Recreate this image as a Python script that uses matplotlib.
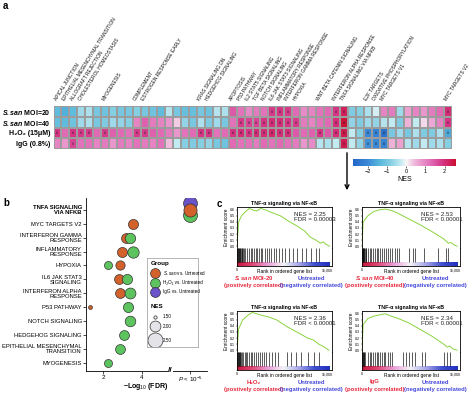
import matplotlib
matplotlib.use('Agg')
import matplotlib.pyplot as plt
import numpy as np
from matplotlib.colors import LinearSegmentedColormap, Normalize
from matplotlib import transforms
import matplotlib.cm as cm

plt.rcParams['font.family'] = ['Liberation Sans', 'DejaVu Sans']
plt.rcParams['mathtext.fontset'] = 'custom'
plt.rcParams['mathtext.rm'] = 'Liberation Sans'
plt.rcParams['mathtext.it'] = 'Liberation Sans:italic'
plt.rcParams['mathtext.bf'] = 'Liberation Sans:bold'
plt.rcParams['mathtext.bfit'] = 'Liberation Sans:bold:italic'

W, H = 474, 394

# ---------------- panel a: heatmap data ----------------
hm_rows = [r'$\mathbfit{S.san}$ MOI=20', r'$\mathbfit{S.san}$ MOI=40', 'H₂O₂ (15μM)', 'IgG (0.8%)']
hm_labels = ['APICAL JUNCTION', 'EPITHELIAL MESENCHYMAL TRANSITION', 'ALLOGRAFT REJECTION',
             'CHOLESTEROL HOMEOSTASIS', '', '', 'MYOGENESIS', '', '', '',
             'COMPLEMENT', 'ESTROGEN RESPONSE EARLY', '', '', '', '', '', '',
             'KRAS SIGNALING DN', 'HEDGEHOG SIGNALING', '', '',
             'APOPTOSIS', 'P53 PATHWAY', 'IL2 STAT5 SIGNALING', 'TGF BETA SIGNALING',
             'NOTCH SIGNALING', 'IL6 JAK STAT3 SIGNALING', 'INFLAMMATORY RESPONSE',
             'INTERFERON GAMMA RESPONSE', 'HYPOXIA', '', '', 'WNT BETA CATENIN SIGNALING', '',
             'INTERFERON ALPHA RESPONSE', 'TNFA SIGNALING VIA NFKB', '', '',
             'E2F TARGETS', 'OXIDATIVE PHOSPHORYLATION', 'MYC TARGETS V1',
             '', '', '', '', '', '', '', 'MYC TARGETS V2']
nes_moi20 = [-1.3, -1.5, -1.3, -0.6, -0.5, -1.0, -1.1, -0.8, -1.0, -1.0,
             -0.8, -1.0, -1.1, -1.3, -0.4, -1.0, -1.2, -1.2, -1.0, -1.1,
             -0.4, -0.5, 1.5, 1.2, 0.9, 1.1, 1.2, 1.8, 1.9, 1.8,
             1.3, 0.9, 1.0, 1.2, 1.3, 1.9, 2.25, -0.9, -0.8, -0.5,
             -0.2, 1.0, 1.1, -0.6, 0.7, 1.0, 0.8, 1.1, 1.3, 2.0]
nes_moi40 = [-1.2, -1.3, -1.1, -0.6, -0.5, -1.0, -0.9, -0.6, -0.7, -0.8,
             1.0, 1.4, 1.1, 1.0, 0.8, 0.3, -0.7, -1.0, -0.5, -0.9,
             -0.6, -1.0, 1.2, 1.8, 1.7, 1.7, 1.9, 2.0, 2.0, 1.9,
             1.8, 1.1, 1.0, 1.2, 1.3, 2.0, 2.53, -0.7, -0.9, -0.6,
             -0.7, -0.4, -0.3, -0.9, 0.5, -0.3, 0.2, 0.6, 1.0, 1.9]
nes_h2o2 = [1.9, 1.3, 1.9, 1.8, 1.8, 1.3, 1.8, 1.4, 1.3, 1.2,
            1.8, 1.8, 1.4, 1.3, 1.1, 0.8, 1.2, 1.3, 1.9, 1.9,
            1.2, 1.3, 1.9, 2.0, 1.9, 2.0, 2.0, 2.1, 2.0, 2.0,
            1.5, 1.3, 1.4, 1.9, 1.5, 2.0, 2.36, -0.3, -0.8, -2.0,
            -2.1, -2.5, -1.0, -0.6, -1.0, -0.5, -0.9, -0.9, -0.5, -1.6]
nes_igg = [1.0, 0.8, 1.7, 1.2, 1.2, 1.0, 1.1, 0.8, 1.1, 1.0,
           1.2, 1.1, 1.0, 1.2, 0.4, -0.3, -0.8, -0.9, -0.8, -0.7,
           -1.0, -1.1, 1.3, 1.2, 1.2, 1.1, 1.3, 1.2, 1.3, 1.2,
           1.1, 0.8, 0.9, -0.4, -0.5, -0.3, 2.34, -0.3, -0.7, -1.9,
           -2.0, -2.1, 0.5, 0.7, -0.4, -0.6, -0.3, -0.6, -0.5, -0.8]
sig_moi20 = [27, 28, 29, 35, 36, 49]
sig_moi40 = [23, 24, 25, 26, 27, 28, 29, 30, 35, 36, 49]
sig_h2o2 = [0, 2, 3, 4, 6, 10, 11, 18, 19, 22, 23, 24, 25, 26, 27, 28, 29, 33, 35, 36, 39, 40, 41, 49]
sig_igg = [2, 36, 39, 40, 41]

# ---------------- panel b data ----------------
b_terms = ['TNFA SIGNALING\nVIA NFKB', 'MYC TARGETS V2', 'INTERFERON GAMMA\nRESPONSE',
           'INFLAMMATORY\nRESPONSE', 'HYPOXIA', 'IL6 JAK STAT3\nSIGNALING',
           'INTERFERON ALPHA\nRESPONSE', 'P53 PATHWAY', 'NOTCH SIGNALING',
           'HEDGEHOG SIGNALING', 'EPITHELIAL MESENCHYMAL\nTRANSITION', 'MYOGENESIS']
san_term = [0, 1, 2, 3, 4, 5, 6, 7]
san_logfdr = [np.inf, 3.52, 3.20, 2.97, 2.89, 2.84, 2.85, 1.35]
san_nes = [2.25, 1.92, 1.90, 1.92, 1.85, 1.90, 1.90, 1.52]
h2o2_term = [0, 2, 3, 4, 5, 6, 7, 8, 9, 10, 11]
h2o2_logfdr = [np.inf, 3.40, 3.52, 2.26, 3.23, 3.40, 3.26, 3.40, 3.06, 2.89, 2.26]
h2o2_nes = [2.36, 1.95, 2.05, 1.75, 1.93, 2.00, 1.93, 1.97, 1.90, 1.90, 1.75]
igg_term = [0]
igg_logfdr = [np.inf]
igg_nes = [2.34]

# ---------------- panel c data (ranks in thousands) ----------------
es_moi20_x = [0, 0.3, 0.8, 1.5, 2.2, 3.0, 3.5, 4.2, 5.0, 6.0, 7.7, 9.0, 10.7, 12.0, 13.0, 14.0, 14.8, 15.3, 15.8, 16.4]
es_moi20_y = [0.0, 0.40, 0.50, 0.57, 0.62, 0.59, 0.58, 0.62, 0.60, 0.56, 0.50, 0.42, 0.33, 0.25, 0.15, 0.10, 0.05, 0.07, 0.03, 0.0]
es_moi40_x = [0, 0.2, 1.0, 2.0, 3.0, 4.0, 5.0, 6.0, 8.0, 10.0, 12.0, 14.0, 14.8, 15.3, 15.8, 16.3]
es_moi40_y = [0.0, 0.40, 0.50, 0.57, 0.60, 0.61, 0.59, 0.55, 0.45, 0.35, 0.24, 0.12, 0.05, 0.06, 0.02, 0.0]
es_h2o2_x = [0, 0.3, 1.0, 2.0, 2.7, 3.5, 4.5, 5.5, 7.0, 9.0, 11.0, 12.5, 13.5, 14.5, 15.5, 16.3]
es_h2o2_y = [0.0, 0.35, 0.50, 0.58, 0.62, 0.60, 0.57, 0.55, 0.50, 0.38, 0.28, 0.20, 0.17, 0.10, 0.05, 0.0]
es_igg_x = [0, 0.2, 1.0, 2.0, 3.0, 4.0, 5.0, 6.0, 8.0, 10.0, 12.0, 14.0, 14.6, 15.0, 15.6, 16.3]
es_igg_y = [0.0, 0.42, 0.52, 0.56, 0.58, 0.60, 0.56, 0.53, 0.45, 0.34, 0.23, 0.10, 0.05, 0.07, 0.02, 0.0]
hits_moi20 = [0.05, 0.12, 0.2, 0.28, 0.35, 0.45, 0.55, 0.65, 0.8, 0.95, 1.1, 1.3, 1.5, 1.8, 2.1, 2.4, 2.6,
              3.0, 3.3, 3.5, 3.9, 4.2, 4.5, 4.9, 5.3, 5.6, 6.0, 6.5, 7.0, 7.4, 7.9, 8.5, 9.2, 10.0, 10.6,
              11.5, 12.3, 13.2, 14.0, 14.6]
hits_moi40 = [0.05, 0.1, 0.18, 0.25, 0.33, 0.42, 0.5, 0.6, 0.75, 1.0, 1.3, 1.6, 1.9, 2.2, 2.5, 2.8, 3.1,
              3.4, 3.8, 4.1, 4.5, 4.8, 5.2, 5.6, 6.0, 6.4, 8.1, 8.7, 9.0, 10.6, 13.1, 14.4, 14.7]
hits_h2o2 = [0.05, 0.12, 0.2, 0.3, 0.4, 0.5, 0.62, 0.75, 0.9, 1.1, 1.35, 1.6, 1.85, 2.1, 2.4, 2.7, 3.0,
             3.3, 3.7, 4.0, 4.4, 4.8, 5.2, 5.7, 6.2, 6.8, 7.3, 8.9, 9.6, 10.5, 11.4, 12.6, 13.6, 14.5]
hits_igg = [0.05, 0.12, 0.2, 0.3, 0.4, 0.5, 1.0, 1.3, 1.6, 1.9, 2.2, 2.5, 2.8, 3.1, 3.4, 3.7, 4.0, 4.4,
            4.8, 5.2, 7.0, 7.5, 8.1, 8.6, 9.1, 10.2, 10.8, 14.1, 14.5, 15.0]
gsea_nes = ['NES = 2.25', 'NES = 2.53', 'NES = 2.36', 'NES = 2.34']
gsea_fdr = ['FDR = 0.00003', 'FDR < 0.00001', 'FDR < 0.00001', 'FDR < 0.00001']
gsea_pos = [r'$\mathbfit{S.san}$ MOI-20', r'$\mathbfit{S.san}$ MOI-40', 'H₂O₂', 'IgG']


def box(x0, y0, x1, y1):
    return [x0 / W, 1 - y1 / H, (x1 - x0) / W, (y1 - y0) / H]


fig = plt.figure(figsize=(W / 100, H / 100), dpi=100)

# ================= panel a =================
nes_cmap = LinearSegmentedColormap.from_list('nes', [
    (0.0, '#2366c8'), (0.148, '#3a8ad6'), (0.259, '#58b8dc'), (0.37, '#86cfe3'),
    (0.463, '#c2eaf1'), (0.519, '#f7f7f7'), (0.593, '#f0bcdc'), (0.685, '#e78cc8'),
    (0.778, '#de62b0'), (0.87, '#d63485'), (0.944, '#d01e58'), (1.0, '#c8102e')])
vmin, vmax = -2.8, 2.6
nes = np.array([nes_moi20, nes_moi40, nes_h2o2, nes_igg])
sigs = [sig_moi20, sig_moi40, sig_h2o2, sig_igg]

ax = fig.add_axes(box(53.5, 106, 451.5, 149))
ax.pcolormesh(np.arange(nes.shape[1] + 1), np.arange(nes.shape[0] + 1), nes, cmap=nes_cmap,
              vmin=vmin, vmax=vmax, edgecolors='#9c9c9c', linewidth=0.35)
for r, cols in enumerate(sigs):
    for c in cols:
        ax.text(c + 0.5, r + 0.55, '#', ha='center', va='center', fontsize=2.6, color='#1a1a1a')
ax.set_xlim(0, nes.shape[1])
ax.set_ylim(nes.shape[0], 0)
ax.set_xticks([])
ax.set_yticks(np.arange(4) + 0.5)
ax.set_yticklabels(hm_rows, fontsize=5, fontweight='bold')
ax.tick_params(axis='y', length=0, pad=2)
for s in ax.spines.values():
    s.set_visible(False)
for c, lab in enumerate(hm_labels):
    if lab:
        ax.text(c + 0.5, -0.4, lab, rotation=58, ha='left', va='bottom', rotation_mode='anchor',
                fontsize=3.55, color='#111111')
fig.text(3 / W, 1 - 6 / H, 'a', fontsize=7, fontweight='bold', va='center')

cax = fig.add_axes(box(352.7, 159, 456, 166))
cb = fig.colorbar(cm.ScalarMappable(norm=Normalize(vmin, vmax), cmap=nes_cmap), cax=cax,
                  orientation='horizontal', ticks=[-2, -1, 0, 1, 2])
cb.outline.set_visible(False)
cb.ax.tick_params(labelsize=4, length=1.5, width=0.4, pad=1)
cb.set_label('NES', fontsize=5, labelpad=1)

fig.add_artist(matplotlib.patches.FancyArrowPatch((347 / W, 1 - 150 / H), (347 / W, 1 - 193 / H),
                                                  transform=fig.transFigure, arrowstyle='->',
                                                  mutation_scale=7, lw=1.0, color='black'))

# ================= panel b =================
c_san, c_h2o2, c_igg = '#d2612c', '#5cc35e', '#6a52c8'
P_POS = 6.48
offs = {'igg': -0.48, 'san': 0.0, 'h2o2': 0.36}


def nes_size(v):
    return 5.7 + (np.asarray(v) - 1.5) * 111.3


axb = fig.add_axes(box(86, 198, 207, 371))
groups = [('igg', igg_term, igg_logfdr, igg_nes, c_igg, 3),
          ('san', san_term, san_logfdr, san_nes, c_san, 4),
          ('h2o2', h2o2_term, h2o2_logfdr, h2o2_nes, c_h2o2, 5)]
for key, terms, fdr, nv, col, z in groups:
    for t, f, n in zip(terms, fdr, nv):
        capped = not np.isfinite(f)
        x = P_POS if capped else f
        y = t + (offs[key] if capped else 0)
        zz = 6 if (capped and key == 'san') else z
        axb.scatter(x, y, s=nes_size(n), color=col, edgecolors='#333333', linewidths=0.5, zorder=zz)
axb.set_ylim(11.6, -0.86)
axb.set_xlim(1.13, 7.33)
axb.set_yticks(range(len(b_terms)))
axb.set_yticklabels(b_terms, fontsize=4.2, multialignment='right', linespacing=1.0)
axb.get_yticklabels()[0].set_fontweight('bold')
axb.set_xticks([2, 4, P_POS])
axb.set_xticklabels(['2', '4', r'$P$ < 10$^{-5}$'], fontsize=4.5)
axb.tick_params(length=2, width=0.5, pad=1)
for s in ['top', 'right']:
    axb.spines[s].set_visible(False)
for s in ['left', 'bottom']:
    axb.spines[s].set_linewidth(0.6)
trans = transforms.blended_transform_factory(axb.transData, axb.transAxes)
axb.text(5.45, 0, '//', transform=trans, ha='center', va='center', fontsize=6, fontweight='bold',
         bbox=dict(fc='white', ec='none', pad=0.3), zorder=10, clip_on=False)
fig.text(146 / W, 1 - 386.5 / H, '−Log$_{10}$ (FDR)', fontsize=5, fontweight='bold',
         ha='center', va='center')
fig.text(3 / W, 1 - 203 / H, 'b', fontsize=7, fontweight='bold', va='center')

# legend drawn by hand
axl = fig.add_axes(box(146.7, 258, 198, 346.7))
axl.set_xlim(146.7, 198)
axl.set_ylim(346.7, 258)
axl.set_xticks([])
axl.set_yticks([])
for s in axl.spines.values():
    s.set_color('#aaaaaa')
    s.set_linewidth(0.6)
axl.text(150.5, 264, 'Group', fontsize=4.5, fontweight='bold', va='center')
for yy, col, lab in [(273.3, c_san, r'$\mathit{S.san}$ vs. Untreated'),
                     (282.7, c_h2o2, 'H₂O₂ vs. Untreated'),
                     (291.7, c_igg, 'IgG vs. Untreated')]:
    axl.scatter(155, yy, s=nes_size(1.9), color=col, edgecolors='#333333', linewidths=0.5)
    axl.text(163, yy, lab, fontsize=3.3, va='center')
axl.text(150.5, 306.5, 'NES', fontsize=4.5, fontweight='bold', va='center')
for yy, v in [(316.7, 1.5), (326.3, 2.0), (340, 2.5)]:
    axl.scatter(155, yy, s=nes_size(v), color='#e4e4e8', edgecolors='#333333', linewidths=0.5)
    axl.text(163, yy, '%.2f' % v, fontsize=3.3, va='center')

# ================= panel c =================
strip_cmap = LinearSegmentedColormap.from_list('strip', ['#c8163c', '#e04a78', '#e8a0d8', '#f4f4f8',
                                                         '#a8a8e8', '#4050d0', '#2030c0'])
es_x = [es_moi20_x, es_moi40_x, es_h2o2_x, es_igg_x]
es_y = [es_moi20_y, es_moi40_y, es_h2o2_y, es_igg_y]
hits = [hits_moi20, hits_moi40, hits_h2o2, hits_igg]
frames = [(237, 331.7, 206.7, 248, 266), (362, 460, 206.7, 248, 266),
          (237, 331.7, 310.7, 352, 370), (362, 460, 310.7, 352, 370)]
red, blue = '#e6283c', '#4646dc'
for i, (x0, x1, yt, ym, yb) in enumerate(frames):
    a1 = fig.add_axes(box(x0, yt, x1, ym))
    a1.plot(es_x[i], es_y[i], color='#8ad43e', lw=0.7)
    a1.set_xlim(0, 16.8)
    a1.set_ylim(-0.03, 0.65)
    a1.set_xticks([])
    a1.set_yticks([0, 0.1, 0.2, 0.3, 0.4, 0.5, 0.6])
    a1.set_yticklabels(['0.0', '0.1', '0.2', '0.3', '0.4', '0.5', '0.6'], fontsize=2.6)
    a1.tick_params(length=1, width=0.3, pad=0.5)
    a1.set_ylabel('Enrichment score', fontsize=3.4, labelpad=1)
    for s in a1.spines.values():
        s.set_linewidth(0.6)
    a1.set_title('TNF-α signaling via NF-κB', fontsize=3.8, fontweight='bold', pad=1.5)
    a1.text(0.6, 0.88, gsea_nes[i] + '\n' + gsea_fdr[i], transform=a1.transAxes, fontsize=4.4,
            va='top', ha='left', linespacing=1.1, color='#222222')
    a2 = fig.add_axes(box(x0, ym, x1, yb))
    a2.vlines(hits[i], 0.2, 1.0, color='black', lw=0.45)
    a2.imshow(np.linspace(0, 1, 200)[None, :], extent=(0, 16.4, 0, 0.2), aspect='auto', cmap=strip_cmap)
    a2.set_xlim(0, 16.8)
    a2.set_ylim(0, 1)
    a2.set_yticks([])
    a2.set_xticks([0, 16])
    a2.set_xticklabels(['0', '16,000'], fontsize=2.6)
    a2.tick_params(length=1, width=0.3, pad=0.5)
    a2.set_xlabel('Rank in ordered gene list', fontsize=3.5, labelpad=-2.5)
    for s in a2.spines.values():
        s.set_linewidth(0.6)
    a2.spines['top'].set_visible(False)
    xl = x0 + 17 if x0 < 300 else x0 + 13
    xr = x0 + 74 if x0 < 300 else x0 + 73
    fig.text(xl / W, 1 - (yb + 12) / H, gsea_pos[i], fontsize=4.2, fontweight='bold', color=red,
             ha='center', va='center')
    fig.text(xl / W, 1 - (yb + 19) / H, '(postively correlated)', fontsize=4.2, fontweight='bold',
             color=red, ha='center', va='center')
    fig.text(xr / W, 1 - (yb + 12) / H, 'Untreated', fontsize=4.2, fontweight='bold', color=blue,
             ha='center', va='center')
    fig.text(xr / W, 1 - (yb + 19) / H, '(negatively correlated)', fontsize=4.2, fontweight='bold',
             color=blue, ha='center', va='center')
fig.text(217 / W, 1 - 204 / H, 'c', fontsize=7, fontweight='bold', va='center')

fig.savefig('out.png', dpi=100)
